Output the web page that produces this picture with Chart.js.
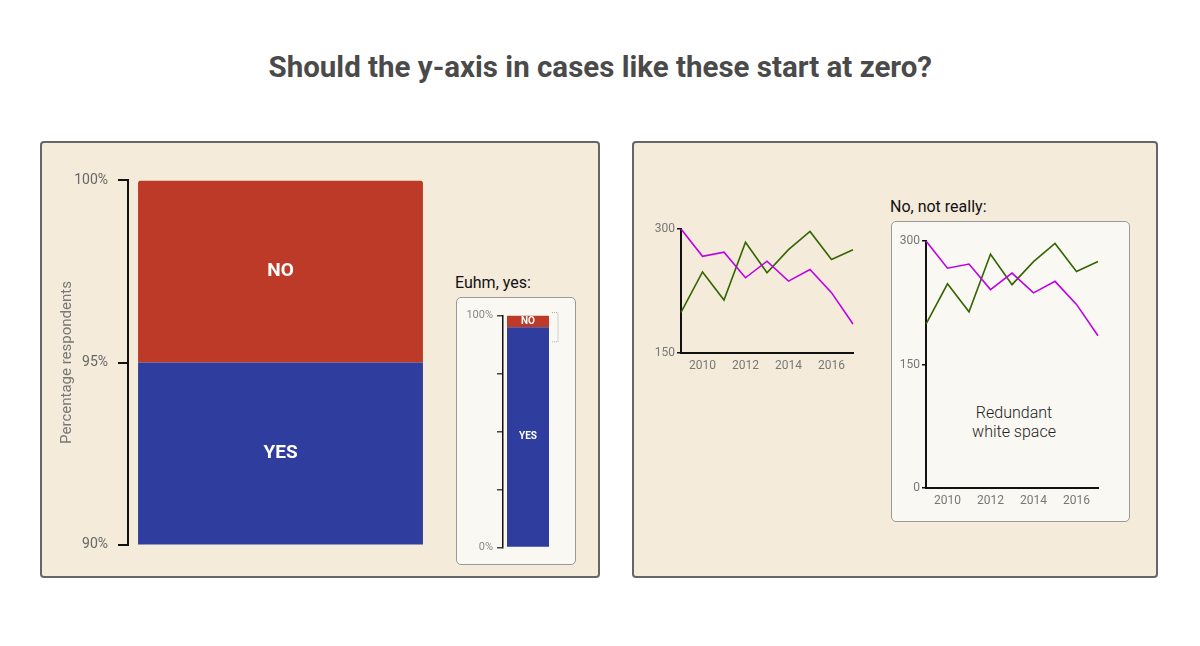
<!DOCTYPE html>
<html>
<head>
<meta charset="utf-8">
<script src="https://cdn.jsdelivr.net/npm/chart.js@4.4.0/dist/chart.umd.min.js"></script>
<style>
    body { margin: 0; background: #fff; font-family: Roboto, sans-serif; }
    #stage { position: relative; width: 1200px; height: 646px; overflow: hidden; }
    #title {
        position: absolute; left: 0; top: 50px; width: 1200px; text-align: center;
        font-size: 29px; font-weight: bold; color: #4a4a4a; white-space: nowrap;
    }
    #title span { display: inline-block; transform-origin: center; }
    .panel {
        position: absolute; box-sizing: border-box; background: #f4ebdb;
        border: 2px solid #666; border-radius: 4px;
    }
    .inset {
        position: absolute; box-sizing: border-box; background: #faf8f3;
        border: 1px solid #999; border-radius: 5px;
    }
    .caption { position: absolute; font-size: 16px; color: #111; white-space: nowrap; }
    .note {
        position: absolute; font-size: 16px; font-weight: 300; color: #222;
        text-align: center; line-height: 19px;
    }
    canvas { position: absolute; }
</style>
</head>
<body>
<div id="stage">
    <div id="title"><span>Should the y-axis in cases like these start at zero?</span></div>

    <div class="panel" style="left:40px;top:141px;width:560px;height:437px"></div>
    <div class="panel" style="left:632px;top:141px;width:526px;height:437px"></div>

    <div class="caption" style="left:455px;top:273px">Euhm, yes:</div>
    <div class="inset" style="left:456px;top:297px;width:120px;height:268px"></div>

    <div class="caption" style="left:890px;top:197px">No, not really:</div>
    <div class="inset" style="left:891px;top:221px;width:239px;height:301px"></div>
    <div class="note" style="left:954px;top:403px;width:120px">Redundant<br>white space</div>

    <canvas id="mainBar" width="393" height="401" style="left:40px;top:162px"></canvas>
    <canvas id="insetBar" width="117" height="253" style="left:456px;top:305px"></canvas>
    <canvas id="cutLine" width="223" height="158" style="left:640px;top:219px"></canvas>
    <canvas id="zeroLine" width="217" height="282" style="left:891px;top:230px"></canvas>
</div>

<script>
// Survey answers (stacked bar)
const answers = ['YES', 'NO'];
const answerShares = [95, 5];
const answerColors = ['#2e3d9e', '#be3a28'];

// Axis ranges and ticks
const mainTicks = [90, 95, 100];
const insetTicks = [0, 100];
const zoomedRange = [90, 100];

// Time series
const years = ['2009', '2010', '2011', '2012', '2013', '2014', '2015', '2016', '2017'];
const magentaSeries = [300, 267, 272, 241, 261, 237, 251, 223, 185];
const greenSeries = [199, 248, 214, 284, 247, 275, 297, 263, 275];
const cutTicks = [150, 300];
const zeroTicks = [0, 150, 300];

Chart.defaults.font.family = 'Roboto';
Chart.defaults.animation = false;
Chart.defaults.plugins.legend.display = false;
Chart.defaults.plugins.tooltip.enabled = false;

// Fit the title to the width it has in the original
const titleSpan = document.querySelector('#title span');
titleSpan.style.transform = 'scaleX(' + (664 / titleSpan.offsetWidth) + ')';

// Draws the dataset label in the middle of each visible bar piece
const barLabels = {
    id: 'barLabels',
    afterDatasetsDraw(chart, args, opts) {
        const { ctx, chartArea } = chart;
        ctx.save();
        ctx.fillStyle = '#fff';
        ctx.font = 'bold ' + opts.size + 'px Roboto';
        ctx.textAlign = 'center';
        ctx.textBaseline = 'middle';
        chart.data.datasets.forEach((ds, i) => {
            const bar = chart.getDatasetMeta(i).data[0];
            const top = Math.max(Math.min(bar.y, bar.base), chartArea.top);
            const bottom = Math.min(Math.max(bar.y, bar.base), chartArea.bottom);
            ctx.fillText(ds.label, bar.x, (top + bottom) / 2);
        });
        ctx.restore();
    }
};

// Dotted bracket marking the range shown in the big chart
const zoomBracket = {
    id: 'zoomBracket',
    afterDraw(chart, args, opts) {
        if (!opts.range) return;
        const { ctx, chartArea } = chart;
        const y = chart.scales.y;
        const top = y.getPixelForValue(opts.range[1]) - 3;
        const bottom = y.getPixelForValue(opts.range[0]) + 3;
        const x0 = chartArea.right - 1;
        const x1 = x0 + 6;
        ctx.save();
        ctx.strokeStyle = '#aaa';
        ctx.lineWidth = 1;
        ctx.setLineDash([1, 1]);
        ctx.beginPath();
        ctx.moveTo(x0, top);
        ctx.lineTo(x1, top);
        ctx.lineTo(x1, bottom);
        ctx.lineTo(x0, bottom);
        ctx.stroke();
        ctx.restore();
    }
};

function barDatasets(radius) {
    return answers.map((name, i) => ({
        label: name,
        data: [answerShares[i]],
        backgroundColor: answerColors[i],
        borderWidth: 0,
        borderSkipped: false,
        borderRadius: i === answers.length - 1
            ? { topLeft: radius, topRight: radius, bottomLeft: 0, bottomRight: 0 }
            : 0
    }));
}

// Big bar chart, axis cut at 90%
new Chart(document.getElementById('mainBar'), {
    type: 'bar',
    data: { labels: [''], datasets: barDatasets(3) },
    options: {
        responsive: false,
        layout: { padding: { top: 10, bottom: 10, left: 0, right: 0 } },
        datasets: { bar: { categoryPercentage: 1, barPercentage: 0.934 } },
        scales: {
            x: { stacked: true, display: false },
            y: {
                stacked: true,
                min: mainTicks[0],
                max: mainTicks[mainTicks.length - 1],
                afterBuildTicks: s => { s.ticks = mainTicks.map(v => ({ value: v })); },
                afterFit: s => { s.width = 88; },
                border: { display: true, color: '#111', width: 2 },
                grid: { drawOnChartArea: false, tickLength: 10, tickColor: '#111', lineWidth: 2 },
                ticks: {
                    padding: 10, color: '#666',
                    font: { size: 14 },
                    callback: v => v + '%'
                },
                title: {
                    display: true, text: 'Percentage respondents', color: '#777',
                    font: { size: 15 },
                    padding: { top: 18, bottom: 0 }
                }
            }
        },
        plugins: { barLabels: { size: 19 } }
    },
    plugins: [barLabels]
});

// Small bar chart from zero
new Chart(document.getElementById('insetBar'), {
    type: 'bar',
    data: { labels: [''], datasets: barDatasets(1) },
    options: {
        responsive: false,
        layout: { padding: { top: 10, bottom: 10, left: 0, right: 20 } },
        datasets: { bar: { categoryPercentage: 1, barPercentage: 0.84 } },
        scales: {
            x: { stacked: true, display: false },
            y: {
                stacked: true,
                min: 0, max: 100,
                ticks: {
                    stepSize: 25, padding: 4, color: '#888',
                    font: { size: 11 },
                    callback: v => insetTicks.includes(v) ? v + '%' : ''
                },
                afterFit: s => { s.width = 47; },
                border: { display: true, color: '#111', width: 1.5 },
                grid: { drawOnChartArea: false, tickLength: 6, tickColor: '#444', lineWidth: 1.5 }
            }
        },
        plugins: { barLabels: { size: 10 }, zoomBracket: { range: zoomedRange } }
    },
    plugins: [barLabels, zoomBracket]
});

function lineOptions(ticks, yWidth, top) {
    return {
        responsive: false,
        layout: { padding: { top: top, bottom: 0, left: 0, right: 10 } },
        elements: { point: { radius: 0 }, line: { borderWidth: 1.6, tension: 0 } },
        scales: {
            x: {
                offset: false,
                afterFit: s => { s.height = 24; },
                border: { display: true, color: '#111', width: 2 },
                grid: { display: false, drawTicks: false },
                ticks: {
                    autoSkip: false, maxRotation: 0, padding: 6, color: '#777',
                    font: { size: 12 },
                    callback: (v, i) => i % 2 === 1 ? years[i] : ''
                }
            },
            y: {
                min: ticks[0],
                max: ticks[ticks.length - 1],
                afterBuildTicks: s => { s.ticks = ticks.map(v => ({ value: v })); },
                afterFit: s => { s.width = yWidth; },
                border: { display: true, color: '#111', width: 2 },
                grid: { drawOnChartArea: false, tickLength: 4, tickColor: '#111', lineWidth: 1.5 },
                ticks: { padding: 2, color: '#777', font: { size: 12 } }
            }
        }
    };
}

function lineData() {
    return {
        labels: years,
        datasets: [
            { data: magentaSeries, borderColor: '#c000e4' },
            { data: greenSeries, borderColor: '#336600' }
        ]
    };
}

// Line chart with the axis starting at 150
new Chart(document.getElementById('cutLine'), {
    type: 'line',
    data: lineData(),
    options: lineOptions(cutTicks, 41, 10)
});

// Same lines with the axis starting at zero
new Chart(document.getElementById('zeroLine'), {
    type: 'line',
    data: lineData(),
    options: lineOptions(zeroTicks, 35, 11)
});
</script>
</body>
</html>
